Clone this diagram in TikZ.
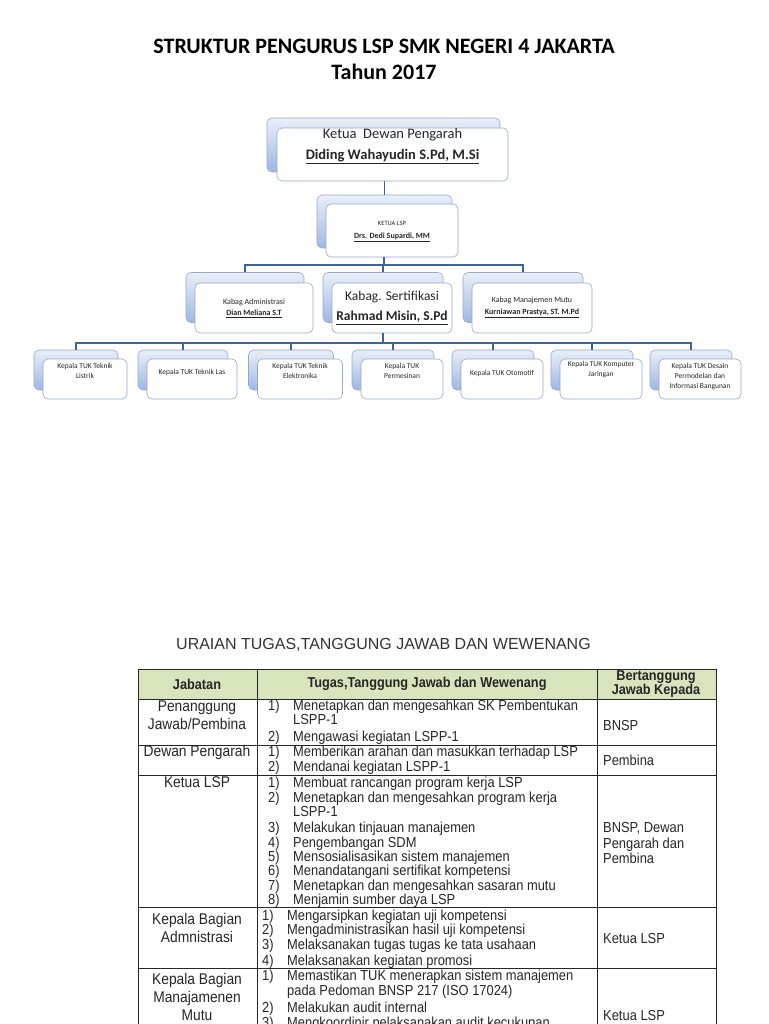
\documentclass[tikz,border=0pt]{standalone}
\usepackage{fontspec}
\setmainfont{Carlito}
\newfontfamily\tablefont[FakeStretch=0.89]{Liberation Sans}
\newfontfamily\headfont{Liberation Sans}
\usetikzlibrary{positioning}
\definecolor{linkblue}{RGB}{63,99,153}
\definecolor{boxedge}{RGB}{150,168,204}
\definecolor{shadetop}{RGB}{234,239,248}
\definecolor{shadebot}{RGB}{158,183,228}
\definecolor{headgreen}{RGB}{216,228,188}
\newcommand\fsz[2]{\fontsize{#1}{#2}\selectfont}

\begin{document}
\begin{tikzpicture}[x=1pt, y=-1pt,
    backbox/.style={draw=boxedge, line width=0.6pt, rounded corners=5pt, top color=shadetop, bottom color=shadebot},
    frontbox/.style={draw=boxedge, line width=0.6pt, rounded corners=5pt, fill=white},
    boxtext/.style={align=center, inner sep=0pt, text=black!85},
    link/.style={linkblue, line width=1.6pt},
    grid/.style={line width=0.9pt, black!85},
    hdr/.style={inner sep=0pt, align=center, font=\tablefont\bfseries\fsz{14.3}{14}, text=black!85},
    jab/.style={inner sep=0pt, align=center, font=\tablefont\fsz{15.5}{18}, text=black!85},
    cell/.style={anchor=base west, inner sep=0pt, font=\tablefont\fsz{14.5}{15.5}, text=black!85},
    side/.style={anchor=west, inner sep=0pt, align=left, font=\tablefont\fsz{14.5}{15.5}, text=black!85}
]
\useasboundingbox (0,0) rectangle (768,1024);

% judul
\node[font=\bfseries\fsz{22}{26}] (judul) at (384,46) {STRUKTUR PENGURUS LSP SMK NEGERI 4 JAKARTA};
\node[font=\bfseries\fsz{22}{26}] (tahun) at (384,72) {Tahun 2017};

% dewan pengarah dan ketua
\node[backbox, minimum width=233pt, minimum height=54pt] (arah-b) at (383.5,145) {};
\node[frontbox, minimum width=231pt, minimum height=53pt] (arah-f) at (392.5,154.5) {};
\node[boxtext, font=\fsz{14.5}{21.5}] (arah) at (392.5,146) {Ketua\ \ Dewan Pengarah\\\textbf{\underline{Diding Wahayudin S.Pd, M.Si}}};

\node[backbox, minimum width=135pt, minimum height=53pt] (ketua-b) at (384.5,221.5) {};
\node[frontbox, minimum width=132pt, minimum height=53pt] (ketua-f) at (392,230.5) {};
\node[boxtext, font=\fsz{8}{13}] (ketua) at (392,231.5) {{\fsz{6.5}{13}KETUA LSP}\\\textbf{\underline{Drs. Dedi Supardi, MM}}};

% kepala bagian
\foreach \nm/\cx/\w in {adm/254/118, sert/392/120, mutu/532/120} {
    \node[backbox, minimum width=\w pt, minimum height=50pt] (\nm-b) at (\cx-9,297.5) {};
    \node[frontbox, minimum width=\w pt, minimum height=50pt] (\nm-f) at (\cx,308) {};
}
\node[boxtext, font=\fsz{8}{11}] (adm) at (254,308.5) {Kabag Administrasi\\\textbf{\underline{Dian Meliana S.T}}};
\node[boxtext, font=\fsz{13.5}{20}] (sert) at (392,308) {Kabag. Sertifikasi\\\textbf{\underline{Rahmad Misin, S.Pd}}};
\node[boxtext, font=\fsz{8}{12}] (mutu) at (532,307) {Kabag Manajemen Mutu\\\textbf{\underline{Kurniawan Prastya, ST. M.Pd}}};

% kepala TUK
\foreach \k/\cx/\w/\ty/\txt in {1/85/84/371/{Kepala TUK Teknik\\Listrik}, 2/192/90/372/{Kepala TUK Teknik Las},
    3/300/85/371/{Kepala TUK Teknik\\Elektronika}, 4/402/82/371/{Kepala TUK\\Permesinan},
    5/502/82/373/{Kepala TUK Otomotif}, 6/601/82/370/{Kepala TUK Komputer\\Jaringan},
    7/700/82/377/{Kepala TUK Desain\\Permodelan dan\\Informasi Bangunan}} {
    \node[backbox, minimum width=\w pt, minimum height=40pt] (tuk\k-b) at (\cx-9,370) {};
    \node[frontbox, minimum width=\w pt, minimum height=40pt] (tuk\k-f) at (\cx,379) {};
    \node[boxtext, font=\fsz{7.5}{10}] (tuk\k) at (\cx,\ty) {\txt};
}

% garis penghubung
\coordinate (barA) at (384,265);
\coordinate (barB) at (383,343);
\draw[link] (arah-f.south -| ketua-b.north) -- (ketua-b.north);
\draw[link] (barA |- ketua-f.south) -- (barA);
\draw[link] (adm-b.north) |- (barA) -| (mutu-b.north);
\draw[link] (sert-b.north |- barA) -- (sert-b.north);
\draw[link] (barB |- sert-f.south) -- (barB);
\draw[link] (tuk1-b.north) |- (barB) -| (tuk7-b.north);
\foreach \k in {2,...,6}
    \draw[link] (tuk\k-b.north |- barB) -- (tuk\k-b.north);

% tabel uraian tugas
\node[font=\headfont\fsz{16}{18}, anchor=west, inner sep=0pt, text=black!80] (uraian) at (176,645) {URAIAN TUGAS,TANGGUNG JAWAB DAN WEWENANG};
\fill[headgreen] (138,669) rectangle (716,699);
\foreach \y in {669,699,745,775,907,968}
    \draw[grid] (138,\y) -- (716,\y);
\foreach \x in {138,257,597,716}
    \draw[grid] (\x,669) -- (\x,1030);

\node[hdr] (h-jab) at (197,684) {Jabatan};
\node[hdr] (h-tugas) at (427,684) {Tugas,Tanggung Jawab dan Wewenang};
\node[hdr] (h-kepada) at (656,684) {Bertanggung\\Jawab Kepada};

\node[jab] (jab1) at (197,715.5) {Penanggung\\Jawab/Pembina};
\node[jab] (jab2) at (197,752) {Dewan Pengarah};
\node[jab] (jab3) at (197,782) {Ketua LSP};
\node[jab] (jab4) at (197,927.5) {Kepala Bagian\\Admnistrasi};
\node[jab] (jab5) at (197,997) {Kepala Bagian\\Manajamenen\\Mutu};

\foreach \k/\x/\y/\n/\t in {
    1/268/710.5/1)/{Menetapkan dan mengesahkan SK Pembentukan},
    2/268/724.5/{}/{LSPP-1},
    3/268/741.5/2)/{Mengawasi kegiatan LSPP-1},
    4/268/756/1)/{Memberikan arahan dan masukkan terhadap LSP},
    5/268/771.5/2)/{Mendanai kegiatan LSPP-1},
    6/268/787/1)/{Membuat rancangan program kerja LSP},
    7/268/802.5/2)/{Menetapkan dan mengesahkan program kerja},
    8/268/816.5/{}/{LSPP-1},
    9/268/832.5/3)/{Melakukan tinjauan manajemen},
    10/268/847.5/4)/{Pengembangan SDM},
    11/268/861.5/5)/{Mensosialisasikan sistem manajemen},
    12/268/875.5/6)/{Menandatangani sertifikat kompetensi},
    13/268/890.5/7)/{Menetapkan dan mengesahkan sasaran mutu},
    14/268/904.5/8)/{Menjamin sumber daya LSP},
    15/262/920.5/1)/{Mengarsipkan kegiatan uji kompetensi},
    16/262/934.5/2)/{Mengadministrasikan hasil uji kompetensi},
    17/262/949.5/3)/{Melaksanakan tugas tugas ke tata usahaan},
    18/262/965.5/4)/{Melaksanakan kegiatan promosi},
    19/262/980.5/1)/{Memastikan TUK menerapkan sistem manajemen},
    20/262/995.5/{}/{pada Pedoman BNSP 217 (ISO 17024)},
    21/262/1012.5/2)/{Melakukan audit internal},
    22/262/1027.5/3)/{Mengkoordinir pelaksanakan audit kecukupan}}
    \node[cell] (tugas\k) at (\x,\y) {\makebox[25pt][l]{\n}\t};

\node[side] (kepada1) at (603,725) {BNSP};
\node[side] (kepada2) at (603,760) {Pembina};
\node[side] (kepada3) at (603,843) {BNSP, Dewan\\Pengarah dan\\Pembina};
\node[side] (kepada4) at (603,938) {Ketua LSP};
\node[side] (kepada5) at (603,1015) {Ketua LSP};
\end{tikzpicture}
\end{document}
